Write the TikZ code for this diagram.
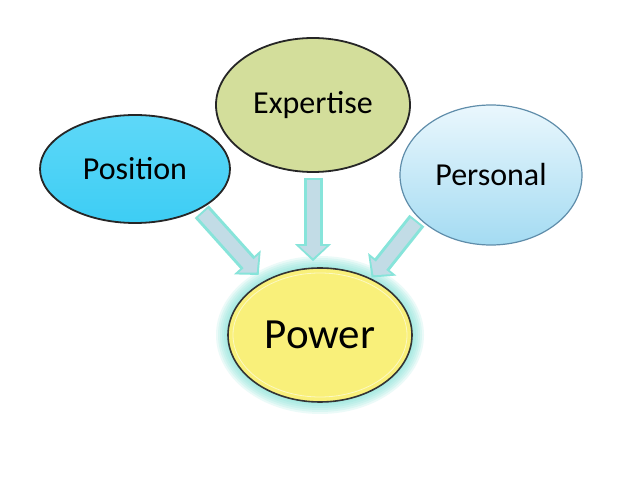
\documentclass[tikz,border=0pt]{standalone}
\usepackage{fontspec}
\setmainfont{Carlito}
\usetikzlibrary{arrows.meta,shapes.geometric}

\definecolor{posCyan}{HTML}{3DCDF4}
\definecolor{posCyanTop}{HTML}{5ED8F8}
\definecolor{expGreen}{HTML}{D3DE9B}
\definecolor{perTop}{HTML}{EAF7FD}
\definecolor{perBot}{HTML}{A4DBF2}
\definecolor{perEdge}{HTML}{5F8DAA}
\definecolor{powYellow}{HTML}{F9F07A}
\definecolor{glowTeal}{HTML}{72DFD3}
\definecolor{arrowFill}{HTML}{C2DCE6}

\begin{document}
\begin{tikzpicture}[x=1pt, y=-1pt,
    bubble/.style={ellipse, inner sep=0pt, text=black,
        font=\fontsize{32}{32}\selectfont},
    link/.style={line width=19pt, draw=glowTeal!85,
        -{Triangle[width=35pt, length=17pt]}},
    linkfill/.style={line width=13pt, draw=arrowFill,
        -{Triangle[width=26pt, length=12pt]}},
]

% Page
\fill[white] (0,0) rectangle (638,478);
\useasboundingbox (0,0) rectangle (638,478);

% Sources of power
\node[bubble, draw=black!85, line width=1.8pt,
    top color=posCyanTop, bottom color=posCyan,
    minimum width=190pt, minimum height=108pt]
    (pos) at (135,169) {Position};
\node[bubble, draw=black!85, line width=1.8pt, fill=expGreen,
    minimum width=194pt, minimum height=134pt]
    (exp) at (313,105) {Expertise};
\node[bubble, draw=perEdge, line width=1.2pt,
    top color=perTop, bottom color=perBot,
    minimum width=182pt, minimum height=140pt]
    (per) at (491,175) {Personal};

% Glow round the centre
\foreach \g in {12,10,8,6,4,2}
    \fill[glowTeal, opacity=0.14]
        (320,335) ellipse [x radius=92+\g, y radius=67+\g];

% Power
\node[bubble, draw=black!80, line width=1.6pt, fill=powYellow,
    minimum width=184pt, minimum height=134pt,
    font=\fontsize{43}{43}\selectfont]
    (pow) at (320,335) {Power};
\draw[white!55!powYellow, line width=0.8pt]
    (pow.center) ellipse [x radius=87, y radius=62];

% Arrows into Power
\coordinate (tipM) at (exp.south |- pow.north);
\foreach \from/\to/\gs/\ge/\fs/\fe in
    {pos.-32/pow.136/3/8/5/11, exp.south/tipM/5/6/7/9,
     per.211/pow.48/3/1/5/4} {
    \draw[link, shorten <=\gs pt, shorten >=\ge pt] (\from) -- (\to);
    \draw[linkfill, shorten <=\fs pt, shorten >=\fe pt] (\from) -- (\to);
}

\end{tikzpicture}
\end{document}
